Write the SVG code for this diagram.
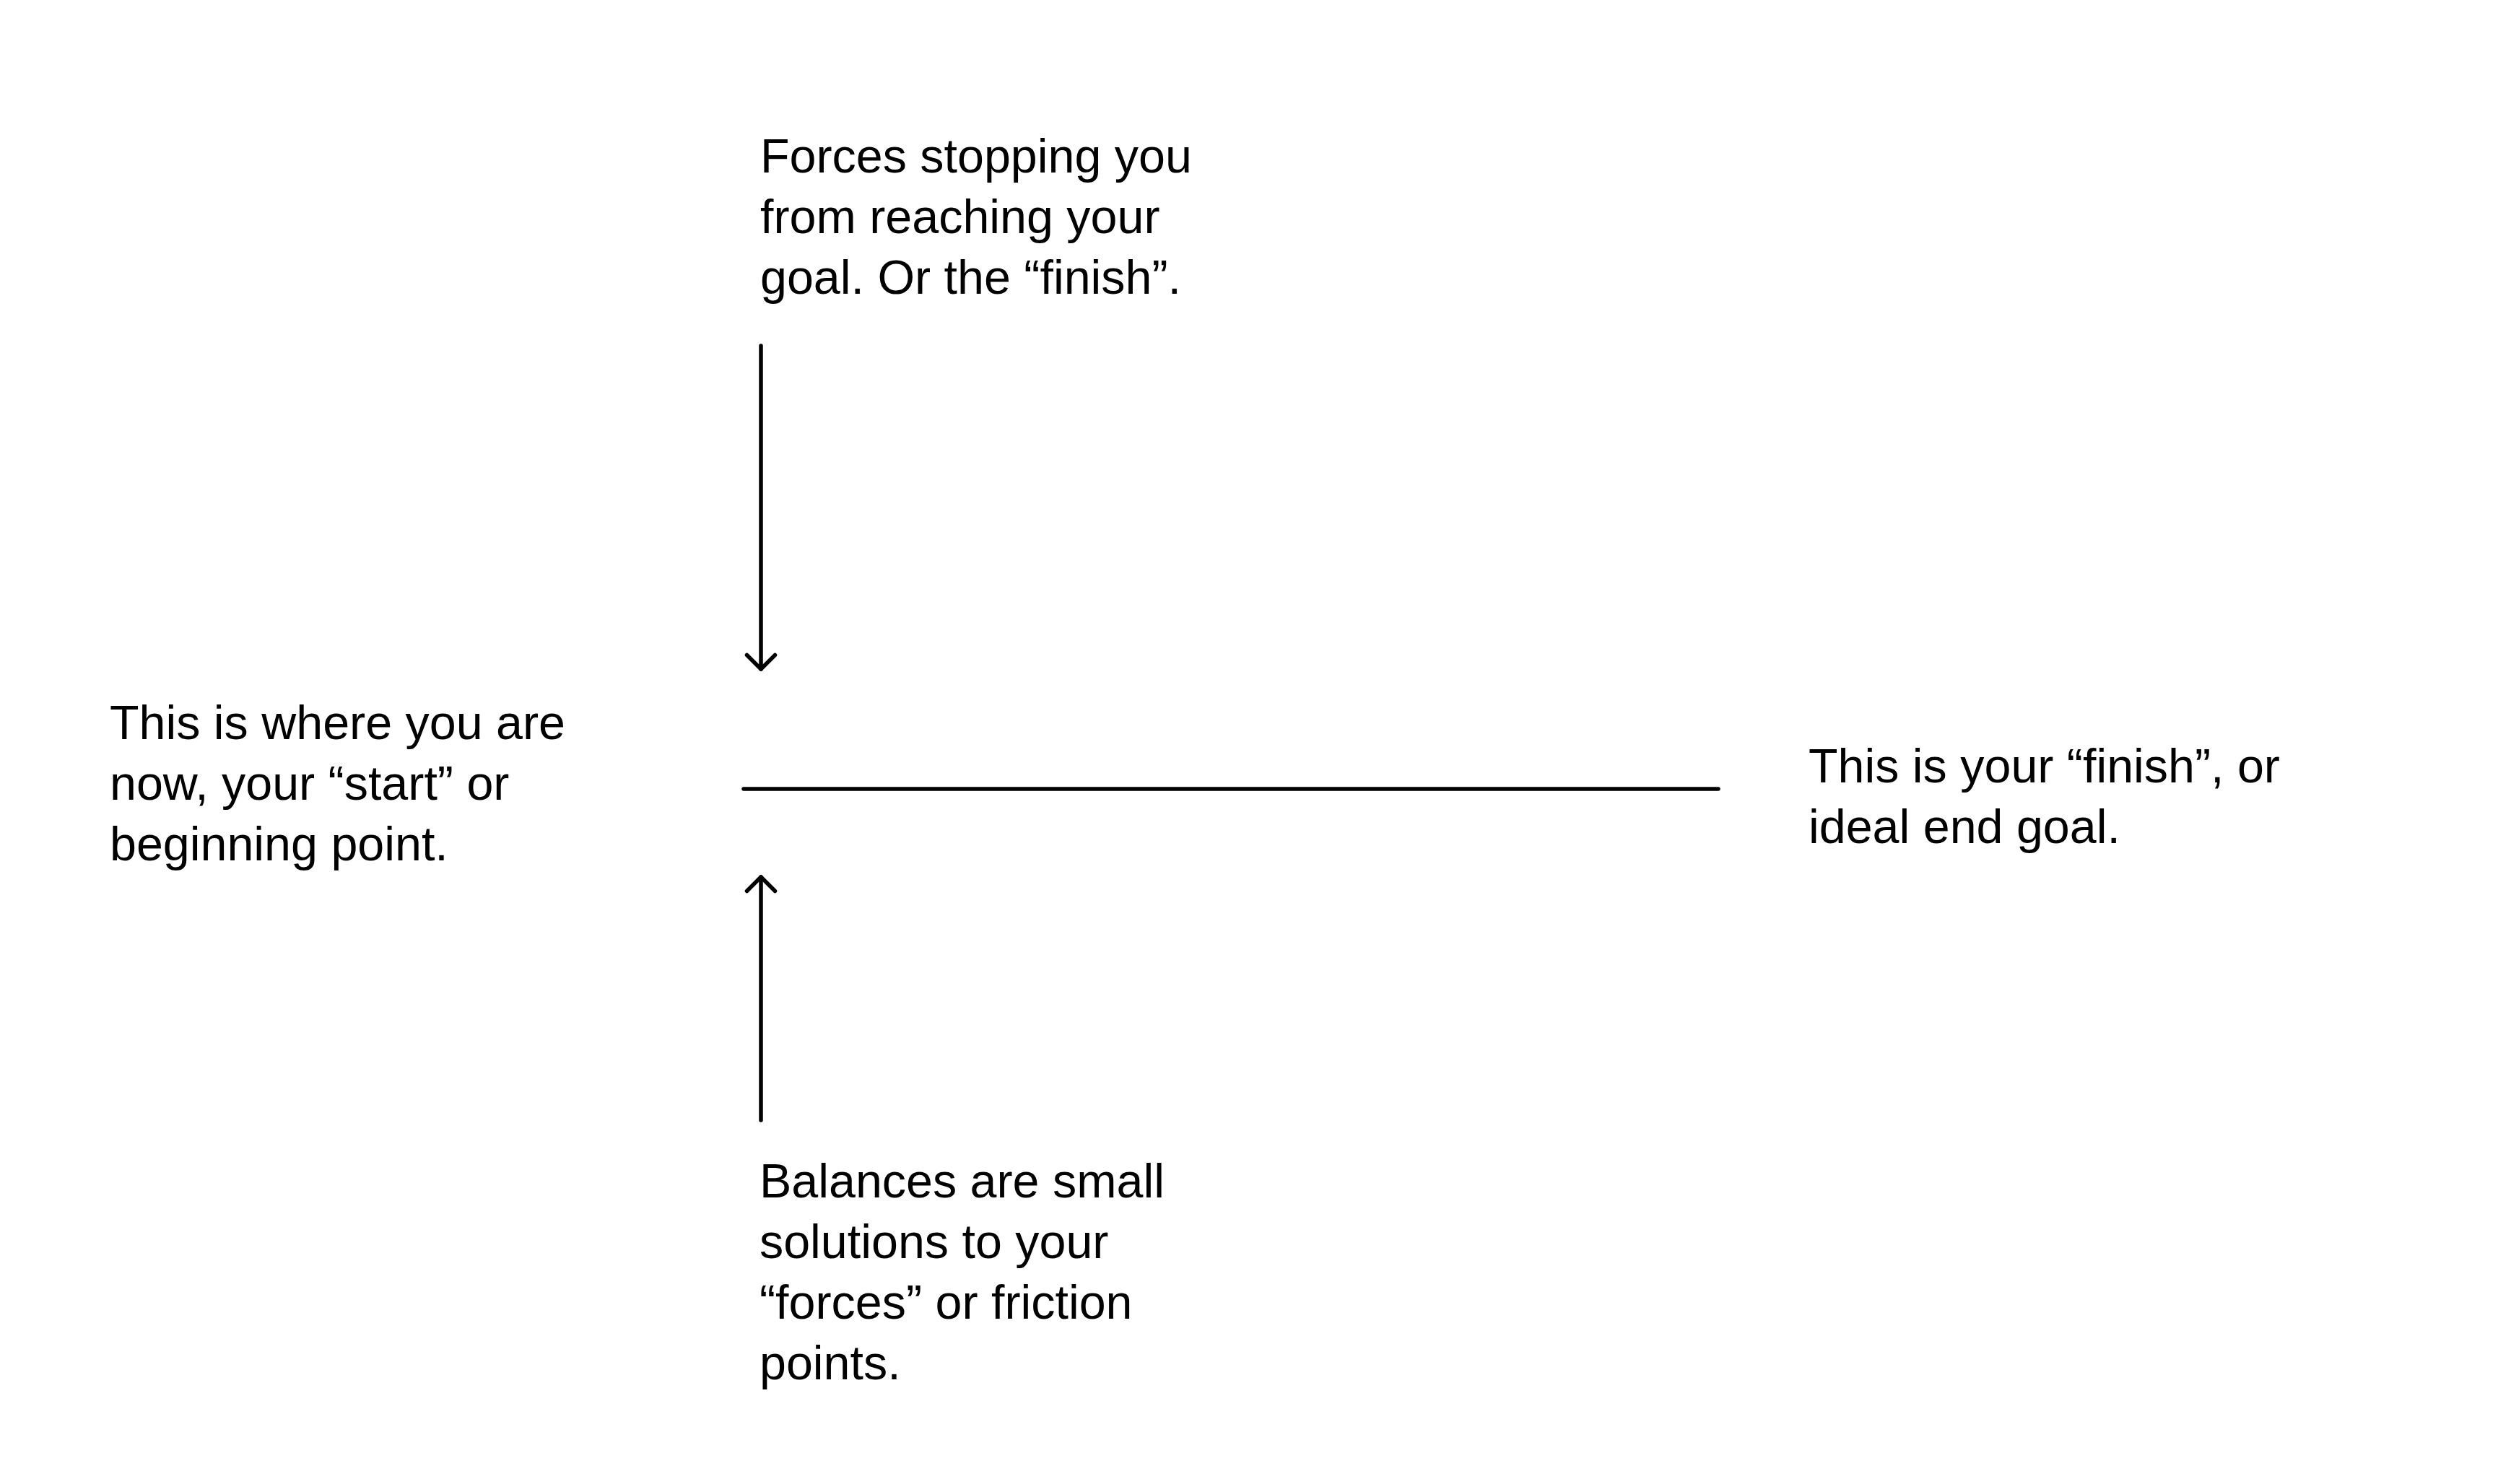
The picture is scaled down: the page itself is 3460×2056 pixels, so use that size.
<svg xmlns="http://www.w3.org/2000/svg" width="3460" height="2056" viewBox="0 0 3460 2056">
  <style>
    .lbl { font-family: "Liberation Sans", Arial, Helvetica, sans-serif; font-size: 66.4px; fill: #000; }
    .conn { stroke: #000; stroke-width: 5.5; stroke-linecap: round; stroke-linejoin: round; fill: none; }
  </style>
  <defs>
    <marker id="chev" markerUnits="userSpaceOnUse" viewBox="-30 -30 60 60" markerWidth="60" markerHeight="60" refX="0" refY="0" orient="auto">
      <path d="M-19.5,-19.5 L0,0 L-19.5,19.5" stroke="#000" stroke-width="5.5" stroke-linecap="round" stroke-linejoin="round" fill="none"/>
    </marker>
  </defs>
  <rect x="0" y="0" width="3460" height="2056" fill="#fff"/>

  <g id="connectors">
    <line class="conn" x1="1054" y1="479" x2="1054" y2="927" marker-end="url(#chev)"/>
    <line class="conn" x1="1054" y1="1552" x2="1054" y2="1215" marker-end="url(#chev)"/>
    <line class="conn" x1="1030" y1="1093" x2="2380" y2="1093"/>
  </g>

  <g id="forces">
    <text class="lbl" x="1053" y="239">Forces stopping you</text>
    <text class="lbl" x="1053" y="323">from reaching your</text>
    <text class="lbl" x="1053" y="407">goal. Or the “finish”.</text>
  </g>

  <g id="start">
    <text class="lbl" x="152" y="1024">This is where you are</text>
    <text class="lbl" x="152" y="1108">now, your “start” or</text>
    <text class="lbl" x="152" y="1192">beginning point.</text>
  </g>

  <g id="finish">
    <text class="lbl" x="2505" y="1084">This is your “finish”, or</text>
    <text class="lbl" x="2505" y="1168">ideal end goal.</text>
  </g>

  <g id="balances">
    <text class="lbl" x="1052" y="1659">Balances are small</text>
    <text class="lbl" x="1052" y="1743">solutions to your</text>
    <text class="lbl" x="1052" y="1827">“forces” or friction</text>
    <text class="lbl" x="1052" y="1911">points.</text>
  </g>
</svg>
